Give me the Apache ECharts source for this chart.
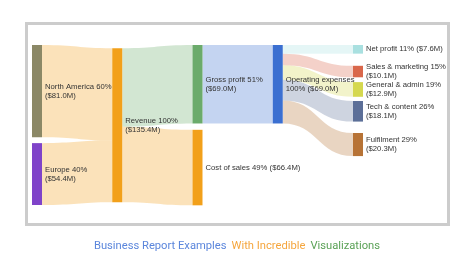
<!DOCTYPE html>
<html>
<head>
<meta charset="utf-8">
<script src="https://cdn.jsdelivr.net/npm/echarts@6/dist/echarts.min.js"></script>
<style>
  html, body { margin: 0; padding: 0; background: #fff; }
  #chart { width: 474px; height: 271px; }
</style>
</head>
<body>
<div id="chart"></div>
<script>
// nodes, in column order
var nodeNames = ['North America', 'Europe', 'Revenue', 'Gross profit', 'Cost of sales',
    'Operating expenses', 'Net profit', 'Sales & marketing', 'General & admin',
    'Tech & content', 'Fulfilment'];
var nodeLabels = [
    'North America 60%\n($81.0M)',
    'Europe 40%\n($54.4M)',
    'Revenue 100%\n($135.4M)',
    'Gross profit 51%\n($69.0M)',
    'Cost of sales 49% ($66.4M)',
    'Operating expenses\n100% ($69.0M)',
    'Net profit 11% ($7.6M)',
    'Sales & marketing 15%\n($10.1M)',
    'General & admin 19%\n($12.9M)',
    'Tech & content 26%\n($18.1M)',
    'Fulfilment 29%\n($20.3M)'
];
// links (source, target, $M)
var linkSources = ['North America', 'Europe', 'Revenue', 'Revenue', 'Gross profit',
    'Operating expenses', 'Operating expenses', 'Operating expenses', 'Operating expenses', 'Operating expenses'];
var linkTargets = ['Revenue', 'Revenue', 'Gross profit', 'Cost of sales', 'Operating expenses',
    'Net profit', 'Sales & marketing', 'General & admin', 'Tech & content', 'Fulfilment'];
var linkValues = [81.0, 54.4, 69.0, 66.4, 69.0, 7.6, 10.1, 12.9, 18.1, 20.3];

// styling
var nodeColors = ['#8b8866', '#7f43c9', '#f2a01a', '#6bab6b', '#f2a01a',
    '#3b6fd1', '#a9e0e0', '#d9674b', '#d5d84f', '#5c6f98', '#b77336'];
// vertical placement (fraction of layout height) for nodes spaced like the original
var nodeLocalY = { 'Revenue': 0.02, 'Cost of sales': 0.53, 'Net profit': 0, 'Sales & marketing': 0.13,
    'General & admin': 0.232, 'Tech & content': 0.35, 'Fulfilment': 0.55 };

var chart = echarts.init(document.getElementById('chart'));

var nodes = nodeNames.map(function (n, i) {
    var item = { name: n, itemStyle: { color: nodeColors[i] } };
    if (nodeLocalY[n] != null) item.localY = nodeLocalY[n];
    return item;
});
var links = linkValues.map(function (v, i) {
    return { source: linkSources[i], target: linkTargets[i], value: v };
});

var option = {
    animation: false,
    textStyle: { fontFamily: 'Liberation Sans' },
    title: {
        text: '{b|Business Report Examples} {o|With Incredible} {g|Visualizations}',
        left: 'center',
        top: 232,
        textStyle: {
            fontWeight: 'normal',
            rich: {
                b: { color: '#5b86dc', fontSize: 11.2, fontFamily: 'Roboto' },
                o: { color: '#f5a63e', fontSize: 11.2, fontFamily: 'Roboto' },
                g: { color: '#5ba257', fontSize: 11.2, fontFamily: 'Roboto' }
            }
        }
    },
    graphic: [{
        type: 'rect',
        shape: { x: 26.5, y: 23.5, width: 422, height: 201 },
        style: { fill: 'none', stroke: '#cccccc', lineWidth: 3 },
        z: -1
    }],
    series: [{
        type: 'sankey',
        left: 32,
        top: 45,
        right: 111,
        bottom: 66,
        nodeWidth: 10,
        nodeGap: 6,
        nodeAlign: 'left',
        layoutIterations: 0,
        draggable: false,
        emphasis: { disabled: true },
        label: {
            show: true,
            position: 'right',
            distance: 3,
            color: '#333',
            fontSize: 7.7,
            lineHeight: 9,
            formatter: function (p) {
                return nodeLabels[nodeNames.indexOf(p.name)];
            }
        },
        lineStyle: { color: 'target', opacity: 0.3, curveness: 0.5 },
        itemStyle: { borderWidth: 0 },
        data: nodes,
        links: links
    }]
};
chart.setOption(option);
</script>
</body>
</html>
